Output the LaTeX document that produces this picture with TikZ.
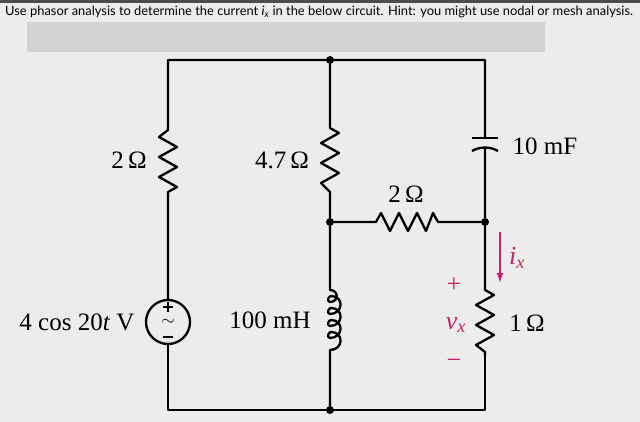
\documentclass[tikz,border=0pt]{standalone}
\usepackage{fontspec}
\setmainfont{Liberation Serif}
\newfontfamily\lato{Lato}
\usetikzlibrary{arrows.meta}
\definecolor{bg}{HTML}{ECECEA}
\definecolor{bar}{HTML}{D3D3D3}
\definecolor{mag}{HTML}{C8206A}
\tikzset{wire/.style={line width=2.3pt,line join=round},
 dotn/.style={circle,fill=black,inner sep=0pt,minimum size=8pt},
 lbl/.style={font=\fontsize{25}{26}\selectfont,inner sep=0pt},
 mlbl/.style={font=\fontsize{26}{26}\selectfont,inner sep=0pt,text=mag}}
\begin{document}
\begin{tikzpicture}[x=1pt,y=-1pt]
\useasboundingbox (0,0) rectangle (640,422);
\fill[bg] (0,0) rectangle (640,422);
\fill[black!70] (0,0) rectangle (640,3);
\fill[bar] (27,22) rectangle (545,52);
\node[font=\lato\fontsize{12.9}{14}\selectfont,anchor=west,inner sep=0pt] (title) at (5,12) {Use phasor analysis to determine the current \textit{i}\textsubscript{\textit{x}} in the below circuit. Hint: you might use nodal or mesh analysis.};
% nodes
\node[dotn] (tm) at (330,60) {};
\node[dotn] (mm) at (330,222) {};
\node[dotn] (mr) at (485,222) {};
\node[dotn] (bm) at (330,410) {};
\coordinate (tl) at (168,60);
\coordinate (tr) at (485,60);
\coordinate (bl) at (168,410);
\coordinate (br) at (485,410);
% source
\node[circle,draw,line width=2.3pt,minimum size=44pt,inner sep=0pt] (src) at (168,322) {};
\draw[line width=1.5pt] (163,307) -- (173,307) (168,302) -- (168,312);
\draw[line width=1.5pt] (163,337) -- (173,337);
\node[font=\fontsize{18}{18}\selectfont,inner sep=0pt] (sa) at (168,322) {$\sim$};
% wires
\draw[wire] (src.south) -- (bl) -- (br) -- (485,356);
\draw[wire] (src.north) -- (168,192)
  -- (177,187) -- (159,177) -- (177,167) -- (159,157) -- (177,147) -- (159,137) -- (168,130)
  -- (tl) -- (tr) -- (485,138);
\draw[wire] (472,138) -- (498,138);
\draw[wire] (472,151) arc[start angle=240,end angle=300,radius=26];
\draw[wire] (485,148) -- (mr) -- (485,290)
  -- (494,295) -- (476,305) -- (494,315) -- (476,325) -- (494,335) -- (476,345) -- (485,352) -- (485,356);
\draw[wire] (tm) -- (330,128) -- (339,133) -- (321,143) -- (339,153) -- (321,163) -- (339,173) -- (321,183) -- (330,192) -- (mm);
\draw[wire] (mm) -- (376,222) -- (381,213) -- (390,231) -- (399,213) -- (408,231) -- (417,213) -- (426,231) -- (433,213) -- (438,222) -- (mr);
\draw[wire] (mm) -- (330,290)
  to[out=0,in=0,looseness=1.9] (330,302) to[out=180,in=180,looseness=1.3] (331,296)
  to[out=0,in=0,looseness=1.9] (330,314) to[out=180,in=180,looseness=1.3] (331,308)
  to[out=0,in=0,looseness=1.9] (330,326) to[out=180,in=180,looseness=1.3] (331,320)
  to[out=0,in=0,looseness=1.9] (330,338) to[out=180,in=180,looseness=1.3] (331,332)
  to[out=0,in=0,looseness=1.9] (330,350) -- (bm);
% labels
\node[lbl] (l1) at (129,160) {2\,Ω};
\node[lbl] (l2) at (282,160) {4.7\,Ω};
\node[lbl] (l3) at (406,194) {2\,Ω};
\node[lbl] (l4) at (545,146) {10 mF};
\node[lbl] (l5) at (77,322) {4 cos 20\textit{t} V};
\node[lbl] (l6) at (270,320) {100 mH};
\node[lbl] (l7) at (527,323) {1\,Ω};
\coordinate (a1) at (500,232);
\coordinate (a2) at (500,283);
\draw[mag,line width=1.5pt,-{Latex[length=10pt,width=7pt]}] (a1) -- (a2);
\node[mlbl] (ix) at (517,258) {\textit{i}\textsubscript{\textit{x}}};
\node[mlbl] (vp) at (454,285) {+};
\node[mlbl] (vx) at (456,325) {\textit{v}\textsubscript{\textit{x}}};
\node[mlbl] (vm) at (454,364) {\textminus};
\end{tikzpicture}
\end{document}
